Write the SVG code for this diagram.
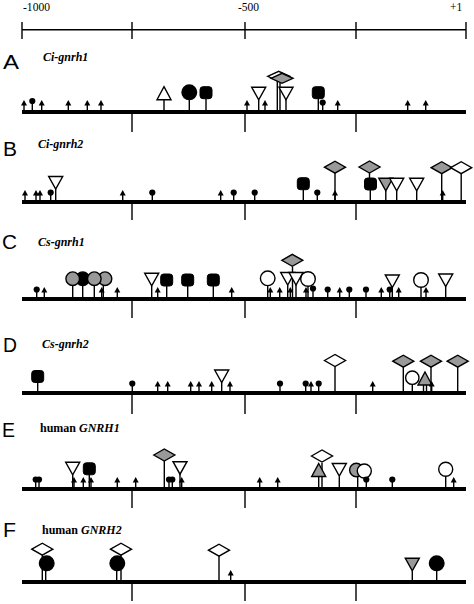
<svg xmlns="http://www.w3.org/2000/svg" width="474" height="604" viewBox="0 0 474 604">
<style>
.ln{stroke:#000;stroke-width:4.2;fill:none}
.tk{stroke:#000;stroke-width:1.4;fill:none}
.st{stroke:#000;stroke-width:1.4;fill:none}
.sh{stroke:#000;stroke-width:1.4}
.w{fill:#fff}.g{fill:#999}.k{fill:#000}
.num{font-family:"Liberation Serif",serif;font-size:11.5px}
.let{font-family:"Liberation Sans",Arial,sans-serif;font-size:20px}
.gl{font-family:"Liberation Serif",serif;font-weight:bold;font-style:italic;font-size:12px}
.hu{font-family:"Liberation Serif",serif;font-weight:bold;font-style:normal;font-size:12px}
</style>
<defs>
<g id="sa"><line x1="0" y1="-7" x2="0" y2="0" stroke="#000" stroke-width="1.4"/><path d="M0,-12L3,-6.6H-3Z" fill="#000"/></g>
<g id="sd"><line x1="0" y1="-9.5" x2="0" y2="0" stroke="#000" stroke-width="1.4"/><circle cy="-9.5" r="3.1" fill="#000"/></g>
<rect id="bs" x="-6" y="-6" width="12" height="12" rx="3" fill="#000" stroke="#000" stroke-width="1"/>
<polygon id="dt" points="-7,0 7,0 0,12.5" stroke="#000" stroke-width="1.4"/>
<polygon id="ut" points="0,0 7,13 -7,13" stroke="#000" stroke-width="1.4"/>
<polygon id="dm" points="-10.5,0 0,-6 10.5,0 0,6" stroke="#000" stroke-width="1.4"/>
</defs>

<g id="scale">
<line class="tk" x1="22" y1="29.7" x2="466" y2="29.7" stroke-width="1.6"/>
<path class="tk" stroke-width="1.6" d="M22 22V39M132 22V39M245 22V39M356 22V39M466 22V39"/>
<text class="num" x="23" y="10.5" textLength="27" lengthAdjust="spacingAndGlyphs">-1000</text>
<text class="num" x="238" y="10.5">-500</text>
<text class="num" x="450" y="10.5">+1</text>
</g>

<g id="connectors">
<path class="ln" d="M22 112H466M22 202H466M22 299H466M22 393H466M22 489H466M22 582H466"/>
<path class="tk" d="M132 112V132M245 112V132M356 112V132M132 202V220M245 202V220M356 202V220M132 299V318M245 299V318M356 299V318M132 393V414M245 393V414M356 393V414M132 489V508M245 489V508M356 489V508M132 582V601M245 582V601M356 582V601"/>
</g>

<g id="panelA">
<text class="let" x="3" y="68.5" textLength="16" lengthAdjust="spacingAndGlyphs">A</text>
<text class="gl" x="43" y="61" font-size="10.5">Ci-gnrh1</text>
<path class="st" d="M164 100V112M189.3 99.6V112M206 98.7V112M258.7 100V112M277.3 81V112M280 82.5V112M286 99V112M318.3 98.7V112"/>
<use href="#ut" x="164" y="86.7" fill="#fff"/>
<circle class="sh k" cx="189.3" cy="92.3" r="7.3"/>
<use href="#bs" x="206" y="92.7"/>
<use href="#dt" x="258.7" y="87.3" fill="#fff"/>
<polygon class="sh w" points="267.7,76.3 278.7,71.3 289.7,76.3 278.7,81.3"/>
<polygon class="sh g" points="271,78.3 282,73.3 293,78.3 282,83.3"/>
<use href="#dt" x="286" y="87.3" fill="#fff"/>
<use href="#bs" x="318.3" y="92.7"/>
<use href="#sa" x="24" y="112"/><use href="#sa" x="41.7" y="112"/><use href="#sa" x="68.3" y="112"/><use href="#sa" x="87.3" y="112"/><use href="#sa" x="101" y="112"/><use href="#sa" x="247" y="112"/><use href="#sa" x="265" y="112"/><use href="#sa" x="337.7" y="112"/><use href="#sa" x="407.7" y="112"/><use href="#sa" x="425.7" y="112"/>
<use href="#sd" x="32.3" y="110.5"/><use href="#sd" x="322.7" y="112"/>
</g>

<g id="panelB">
<text class="let" x="3" y="155.5" textLength="14" lengthAdjust="spacingAndGlyphs">B</text>
<text class="gl" x="38" y="148.3">Ci-gnrh2</text>
<path class="st" d="M55.7 189V202M303.3 189.7V202M335 173V202M369.5 173V178.3M385.8 190.8V202M396.7 190.8V202M416.7 190.8V202M441.7 173.5V202M461.2 173.5V202"/>
<path class="st" stroke-width="2.8" d="M370.3 190V202"/>
<use href="#dt" x="55.7" y="176.5" fill="#fff"/>
<use href="#bs" x="303.3" y="183.7"/>
<use href="#dm" x="335" y="167.2" fill="#999"/>
<use href="#dm" x="369.5" y="167" fill="#999"/>
<use href="#bs" x="370.5" y="184"/>
<use href="#dt" x="385.8" y="178.3" fill="#999"/>
<use href="#dt" x="396.7" y="178.3" fill="#fff"/>
<use href="#dt" x="416.7" y="178.3" fill="#fff"/>
<use href="#dm" x="441.7" y="167.7" fill="#999"/>
<use href="#dm" x="461.2" y="167.7" fill="#fff"/>
<use href="#sa" x="25" y="202"/><use href="#sa" x="36" y="202"/><use href="#sa" x="40" y="202"/><use href="#sa" x="122.7" y="202"/><use href="#sa" x="220.7" y="202"/><use href="#sa" x="335" y="202"/><use href="#sa" x="442.7" y="202"/>
<use href="#sd" x="50.7" y="202"/><use href="#sd" x="152.3" y="202"/><use href="#sd" x="233.7" y="202"/><use href="#sd" x="254.7" y="202"/><use href="#sd" x="317.3" y="202"/>
</g>

<g id="panelC">
<text class="let" x="2" y="248.5" textLength="15" lengthAdjust="spacingAndGlyphs">C</text>
<text class="gl" x="38" y="245.7">Cs-gnrh1</text>
<path class="st" d="M72.7 285.5V299M82.7 285.5V299M94.3 285.5V299M103.3 285.5V299M151.7 286V299M166.7 286V299M187.7 286V299M213.3 286V299M267.7 285.6V299M287.7 285V299M296 285V299M292.5 266.5V299M308 286.3V299M392.3 287.5V299M421 287.3V299M445.7 286.5V299"/>
<circle class="sh k" cx="82.7" cy="278.7" r="6.8"/>
<circle class="sh g" cx="105" cy="278.7" r="6.8"/>
<circle class="sh g" cx="72.7" cy="278.7" r="6.8"/>
<circle class="sh g" cx="94.3" cy="278.7" r="6.8"/>
<use href="#dt" x="151.7" y="273.3" fill="#fff"/>
<use href="#bs" x="166.7" y="280"/><use href="#bs" x="187.7" y="280"/><use href="#bs" x="213.3" y="280"/>
<circle class="sh w" cx="267.7" cy="278.3" r="7.3"/>
<use href="#dt" x="287.7" y="272.5" fill="#fff"/>
<use href="#dt" x="296" y="272.5" fill="#fff"/>
<use href="#dm" x="292.3" y="260.3" fill="#999"/>
<circle class="sh w" cx="308" cy="279" r="7.3"/>
<use href="#dt" x="392.3" y="275" fill="#fff"/>
<circle class="sh w" cx="421" cy="280" r="7.3"/>
<use href="#dt" x="445.7" y="274" fill="#fff"/>
<use href="#sa" x="44.3" y="299"/><use href="#sa" x="101.7" y="299"/><use href="#sa" x="117.3" y="299"/><use href="#sa" x="157.7" y="299"/><use href="#sa" x="231.7" y="299"/><use href="#sa" x="270.3" y="299"/><use href="#sa" x="279.7" y="299"/><use href="#sa" x="290.3" y="299"/><use href="#sa" x="306" y="299"/><use href="#sa" x="339.7" y="299"/><use href="#sa" x="381.3" y="299"/><use href="#sa" x="398.7" y="299"/><use href="#sa" x="426" y="299"/>
<use href="#sd" x="36.7" y="299"/><use href="#sd" x="313" y="298"/><use href="#sd" x="327.7" y="299"/><use href="#sd" x="349.3" y="299"/><use href="#sd" x="366" y="299"/><use href="#sd" x="389.7" y="299"/>
</g>

<g id="panelD">
<text class="let" x="3" y="352" textLength="14" lengthAdjust="spacingAndGlyphs">D</text>
<text class="gl" x="42" y="347.7">Cs-gnrh2</text>
<use href="#bs" x="37.7" y="376.5"/>
<use href="#dt" x="221.7" y="370" fill="#fff"/>
<use href="#dm" x="335" y="360.5" fill="#fff"/>
<use href="#dm" x="403.3" y="361.2" fill="#999"/>
<circle class="sh w" cx="412.3" cy="377.7" r="6.7"/>
<use href="#ut" x="425" y="372" fill="#999"/>
<use href="#dm" x="431" y="361.2" fill="#999"/>
<use href="#dm" x="457.7" y="361.2" fill="#999"/>
<path class="st" d="M37.7 382.5V393M221.7 382.5V393M335 366.5V393M403.3 367V393M412.3 384.4V393M423.5 385V393M426.5 385V393M431 367V393M457.7 367V393"/>
<use href="#sa" x="157.7" y="393"/><use href="#sa" x="167.7" y="393"/><use href="#sa" x="190.7" y="393"/><use href="#sa" x="199" y="393"/><use href="#sa" x="211.7" y="393"/><use href="#sa" x="230" y="393"/><use href="#sa" x="311" y="393"/><use href="#sa" x="372.7" y="393"/><use href="#sa" x="431.7" y="393"/>
<use href="#sd" x="132.3" y="393"/><use href="#sd" x="280" y="393"/><use href="#sd" x="305.7" y="393"/><use href="#sd" x="318.7" y="393"/>
</g>

<g id="panelE">
<text class="let" x="2" y="436.5" textLength="13" lengthAdjust="spacingAndGlyphs">E</text>
<text class="hu" x="40" y="432.3">human <tspan font-style="italic">GNRH1</tspan></text>
<path class="st" d="M72.7 475V489M89.3 474.3V489M164.3 461V489M180 474V489M322 462.7V489M318.7 476.7V489M339.3 476.5V489M357.7 477V489M445.7 476.3V489"/>
<use href="#dt" x="72.7" y="462.3" fill="#fff"/>
<use href="#bs" x="89.3" y="468.8"/>
<use href="#dm" x="164.3" y="455" fill="#999"/>
<use href="#dt" x="180" y="461.7" fill="#fff"/>
<use href="#dm" x="322" y="456" fill="#fff"/>
<use href="#ut" x="318.7" y="463.5" fill="#999"/>
<use href="#dt" x="339.3" y="463.5" fill="#fff"/>
<circle class="sh g" cx="356.3" cy="470" r="6.7"/>
<circle class="sh w" cx="364.3" cy="471" r="7"/>
<circle class="sh w" cx="445.7" cy="469.3" r="7"/>
<use href="#sa" x="74" y="489"/><use href="#sa" x="83.3" y="489"/><use href="#sa" x="91" y="489"/><use href="#sa" x="117.3" y="489"/><use href="#sa" x="135.7" y="489"/><use href="#sa" x="181.7" y="489"/><use href="#sa" x="259.7" y="489"/><use href="#sa" x="277.7" y="489"/><use href="#sa" x="453.7" y="489"/>
<use href="#sd" x="35.7" y="489"/><use href="#sd" x="39" y="489"/><use href="#sd" x="169" y="489"/><use href="#sd" x="172.3" y="489"/><use href="#sd" x="366.3" y="489"/><use href="#sd" x="392.3" y="489"/>
</g>

<g id="panelF">
<text class="let" x="3" y="536.5" textLength="13" lengthAdjust="spacingAndGlyphs">F</text>
<text class="hu" x="42" y="534.3">human <tspan font-style="italic">GNRH2</tspan></text>
<path class="st" d="M42.3 555V582M45.7 565V582M116.7 565V582M121 555V582M219 556V582M412.3 570.5V582M436.7 570.6V582"/>
<use href="#dm" x="42.3" y="549.2" fill="#fff"/>
<circle class="sh k" cx="46.7" cy="563.3" r="7.3"/>
<use href="#dm" x="121" y="549.2" fill="#fff"/>
<circle class="sh k" cx="117.3" cy="563.3" r="7.3"/>
<use href="#dm" x="219" y="550.2" fill="#fff"/>
<use href="#dt" x="412.3" y="558.3" fill="#999"/>
<circle class="sh k" cx="436.7" cy="563.3" r="7.3"/>
<use href="#sa" x="230.7" y="582"/>
</g>
</svg>
